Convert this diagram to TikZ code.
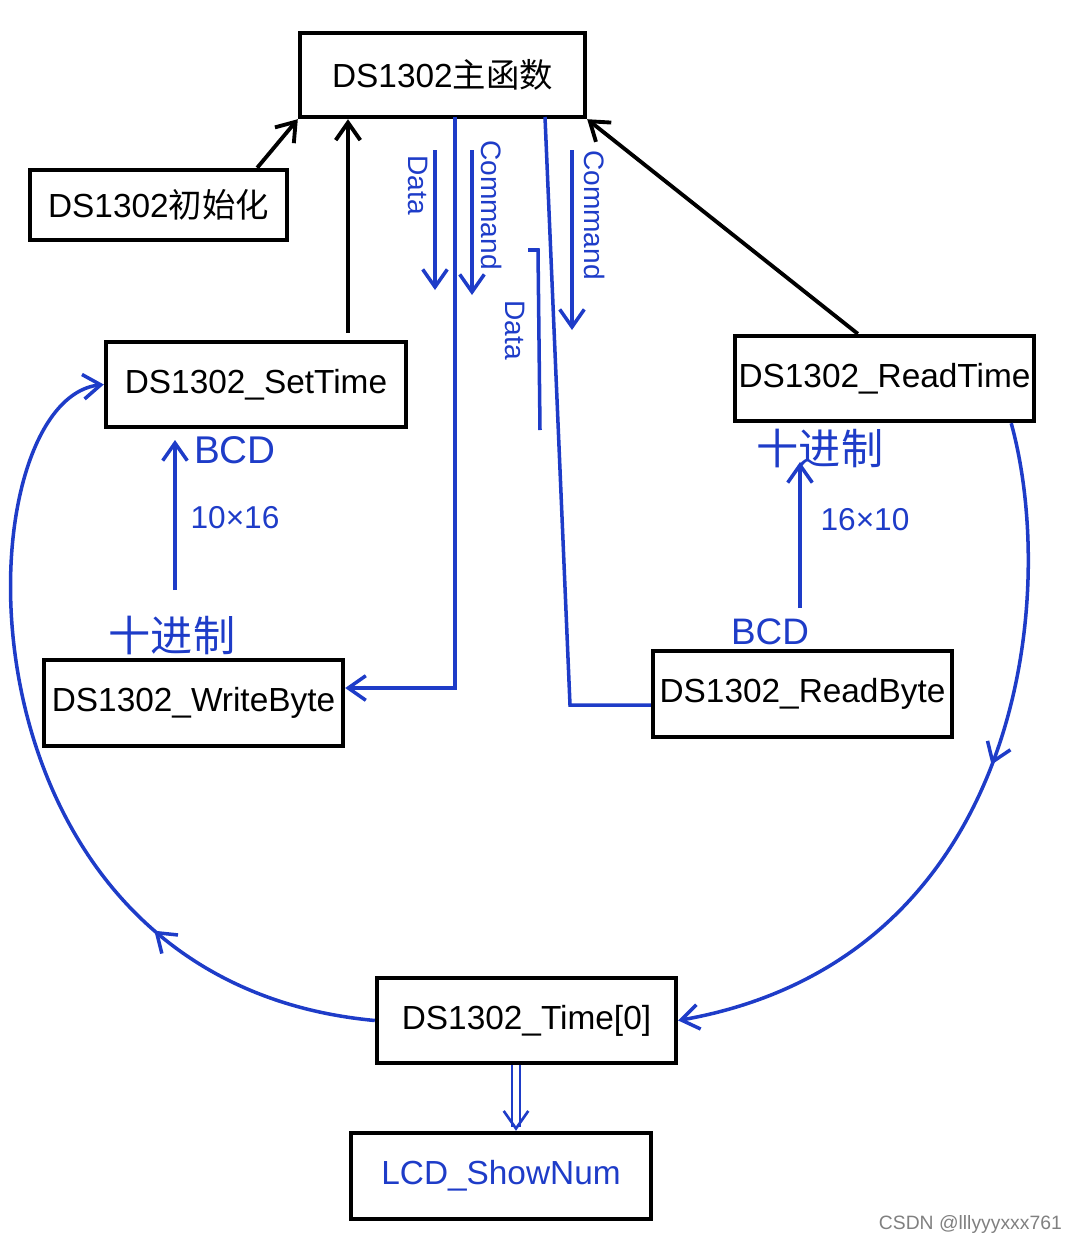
\documentclass[tikz,border=0pt]{standalone}
\usepackage{fontspec}
\setmainfont{Liberation Sans}
\newfontfamily\cjk{Noto Sans CJK SC}
\usetikzlibrary{arrows.meta,decorations.markings}
\definecolor{pen}{RGB}{30,60,200}
\begin{document}
\begin{tikzpicture}[x=0.02cm,y=-0.02cm,
 box/.style={draw=black,line width=2.5pt,minimum width=#1*0.02cm,inner sep=0pt,font=\fontsize{19}{22}\selectfont},
 blk/.style={line width=2.2pt,-{Straight Barb[length=10pt,width=14pt]}},
 bl/.style={pen,line width=2pt},
 ba/.style={pen,line width=2pt,-{Straight Barb[length=10pt,width=14pt]}},
 midarrow/.style={postaction={decorate},decoration={markings,mark=at position #1 with {\arrow{Straight Barb[length=10pt,width=14pt]}}}},
 lab/.style={pen,font=\fontsize{16}{18}\selectfont}]
\useasboundingbox (0,0) rectangle (1080,1248);
\node[box=285,minimum height=84*0.02cm] (main) at (442.5,75) {DS1302{\cjk 主函数}};
\node[box=257,minimum height=70*0.02cm] (init) at (158.5,205) {DS1302{\cjk 初始化}};
\node[box=300,minimum height=85*0.02cm] (set) at (256,384.5) {DS1302\_SetTime};
\node[box=299,minimum height=85*0.02cm] (read) at (884.5,378.5) {DS1302\_ReadTime};
\node[box=299,minimum height=86*0.02cm] (wb) at (193.5,703) {DS1302\_WriteByte};
\node[box=299,minimum height=86*0.02cm] (rb) at (802.5,694) {DS1302\_ReadByte};
\node[box=299,minimum height=85*0.02cm] (tm) at (526.5,1020.5) {DS1302\_Time[0]};
\node[box=300,minimum height=86*0.02cm,text=pen] (lcd) at (501,1176) {LCD\_ShowNum};
% black connectors
\draw[blk] (init.north east)++(-32,0) coordinate (i1) -- (main.south west);
\draw[blk] (set.north)++(92,-7) coordinate (s1) -- (s1 |- main.south);
\draw[blk] (read.north west)++(125,0) coordinate (r1) -- (main.south east);
% blue data lines
\coordinate (a1) at (455,117); \coordinate (a2) at (460,688);
\draw[ba] (a1) -- (455,688) -- (wb.east |- a2);
\coordinate (b1) at (545,117);
\draw[bl] (b1) -- (570,705) -- (rb.west |- 570,705);
\coordinate (d1) at (435,150); \coordinate (d2) at (435,290);
\draw[ba] (d1) -- (d2);
\node[lab,rotate=-90] (dl1) at (418,185) {Data};
\coordinate (c1) at (472,150); \coordinate (c2) at (472,295);
\draw[ba] (c1) -- (c2);
\node[lab,rotate=-90] (cl1) at (492,205) {Command};
\coordinate (e1) at (528,250); \coordinate (e2) at (540,430);
\draw[bl] (e1) -- (538,250) -- (e2);
\node[lab,rotate=-90] (dl2) at (515,330) {Data};
\coordinate (f1) at (572,150); \coordinate (f2) at (572,330);
\draw[ba] (f1) -- (f2);
\node[lab,rotate=-90] (cl2) at (595,215) {Command};
% conversions
\coordinate (g1) at (175,590); \coordinate (g2) at (175,440);
\draw[ba] (g1) -- (g2);
\node[lab,font=\fontsize{22}{24}\selectfont] (bcd1) at (235,450) {BCD};
\node[lab,font=\fontsize{18}{20}\selectfont] (x1) at (235,518) {10×16};
\node[lab,font=\cjk\fontsize{24}{26}\selectfont] (dec1) at (172,635) {十进制};
\coordinate (h1) at (800,608) ; \coordinate (h2) at (800,462);
\draw[ba] (h1) -- (h2);
\node[lab,font=\cjk\fontsize{24}{26}\selectfont] (dec2) at (820,448) {十进制};
\node[lab,font=\fontsize{18}{20}\selectfont] (x2) at (865,520) {16×10};
\node[lab,font=\fontsize{21}{23}\selectfont] (bcd2) at (770,632) {BCD};
% loops
\draw[ba,midarrow=0.28] (tm.west) .. controls (-60,980) and (-40,400) .. (set.west);
\draw[ba,midarrow=0.45] (read.south east)++(-25,0) .. controls (1060,600) and (1020,960) .. (tm.east);
\draw[ba,double,double distance=3pt,line width=1.5pt] (tm.south -| 516,0) -- (lcd.north -| 516,0);
\node[gray,font=\fontsize{11}{12}\selectfont,anchor=south east] (wm) at (1068,1240) {CSDN @lllyyyxxx761};
\end{tikzpicture}
\end{document}
